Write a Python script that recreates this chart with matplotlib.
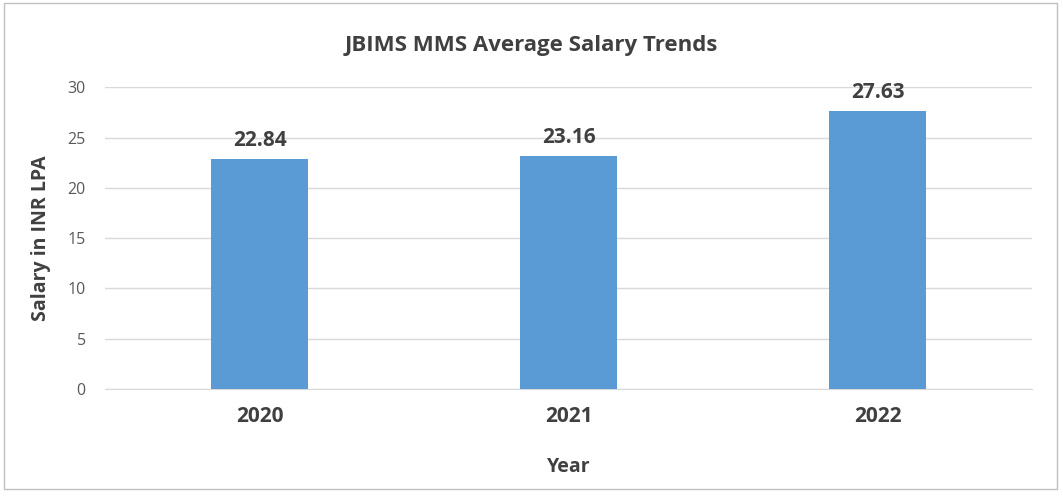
import matplotlib.pyplot as plt
from matplotlib.patches import Rectangle

years = ["2020", "2021", "2022"]
salary = [22.84, 23.16, 27.63]

plt.rcParams['font.family'] = ['Open Sans', 'DejaVu Sans']

fig = plt.figure(figsize=(10.63, 5.04), dpi=100)
ax = fig.add_axes([0.099, 0.228, 0.872, 0.599])

x = range(len(years))
ax.bar(x, salary, width=0.315, color="#5B9BD5", zorder=3)
for i, v in zip(x, salary):
    ax.text(i, v + 0.8, f"{v:.2f}", ha="center", va="bottom",
            fontsize=15, fontweight="bold", color="#404040")

ax.set_xlim(-0.5, 2.5)
ax.set_ylim(0, 30)
ax.set_yticks(range(0, 31, 5))
ax.set_xticks(list(x))
ax.set_xticklabels(years, fontsize=15, fontweight="bold", color="#404040")
ax.tick_params(axis="y", labelsize=11.5, colors="#595959", length=0, pad=14)
ax.tick_params(axis="x", length=0, pad=12)
ax.grid(axis="y", color="#D9D9D9", linewidth=1, zorder=0)
for s in ["top", "right", "left"]:
    ax.spines[s].set_visible(False)
ax.spines["bottom"].set_color("#D9D9D9")

ax.set_ylabel("Salary in INR LPA", fontsize=14, fontweight="bold", color="#404040", labelpad=12)
ax.set_xlabel("Year", fontsize=14, fontweight="bold", color="#404040", labelpad=22)
fig.text(0.5, 0.91, "JBIMS MMS Average Salary Trends", ha="center", va="center",
         fontsize=16, fontweight="bold", color="#404040")

fig.patches.append(Rectangle((0.004, 0.03), 0.99, 0.965, transform=fig.transFigure,
                             fill=False, edgecolor="#BFBFBF", linewidth=1))

fig.savefig("out.png", dpi=100)
